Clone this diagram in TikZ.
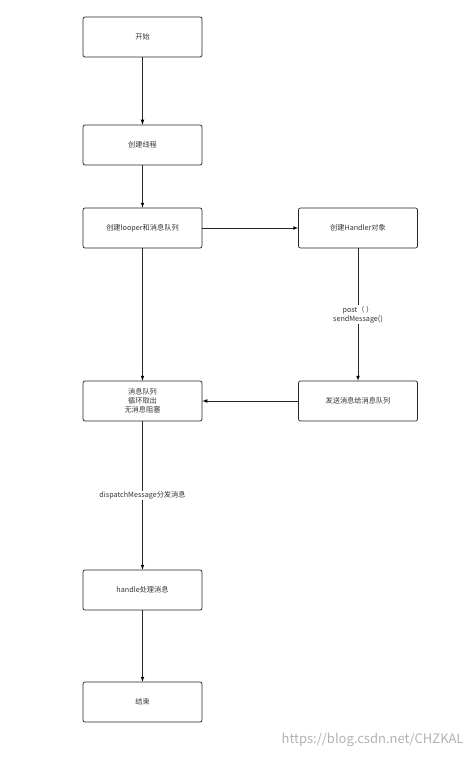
\documentclass[tikz,border=0pt]{standalone}
\usepackage{fontspec}
\setmainfont{Noto Sans CJK SC}
\usetikzlibrary{positioning}

\begin{document}
\begin{tikzpicture}[>=latex,node distance=2cm,on grid,
  box/.style={draw=black!85,rounded corners=2pt,minimum width=119pt,minimum height=40pt,
    align=center,font=\fontsize{7.2}{9}\selectfont,text=black!80,line width=0.7pt},
  lbl/.style={fill=white,align=center,font=\fontsize{7.2}{9}\selectfont,text=black!80,inner sep=1pt}]
\useasboundingbox (0,0) rectangle (474pt,-757pt);
\node[box] (start) at (142.5pt,-37pt) {开始};
\node[box] (thread) [below=108pt of start] {创建线程};
\node[box] (looper) [below=83pt of thread] {创建looper和消息队列};
\node[box] (handler) [right=215.5pt of looper] {创建Handler对象};
\node[box] (send) [below=173pt of handler] {发送消息给消息队列};
\node[box] (queue) [below=173pt of looper] {消息队列\\循环取出\\无消息阻塞};
\node[box] (handle) [below=189pt of queue] {handle处理消息};
\node[box] (stop) [below=112pt of handle] {结束};
\node[font=\fontsize{13}{15}\selectfont,text=black!30,anchor=east] (mark) at (467pt,-740pt) {https://blog.csdn.net/CHZKAL};

\path[->,draw=black!85,line width=0.7pt]
(start) edge (thread)
(thread) edge (looper)
(looper) edge (handler)
(looper) edge (queue)
(handler) edge node[lbl] {post（ ）\\sendMessage()} (send)
(send) edge (queue)
(queue) edge node[lbl,pos=0.5] {dispatchMessage分发消息} (handle)
(handle) edge (stop)
; %end path
\end{tikzpicture}
\end{document}
